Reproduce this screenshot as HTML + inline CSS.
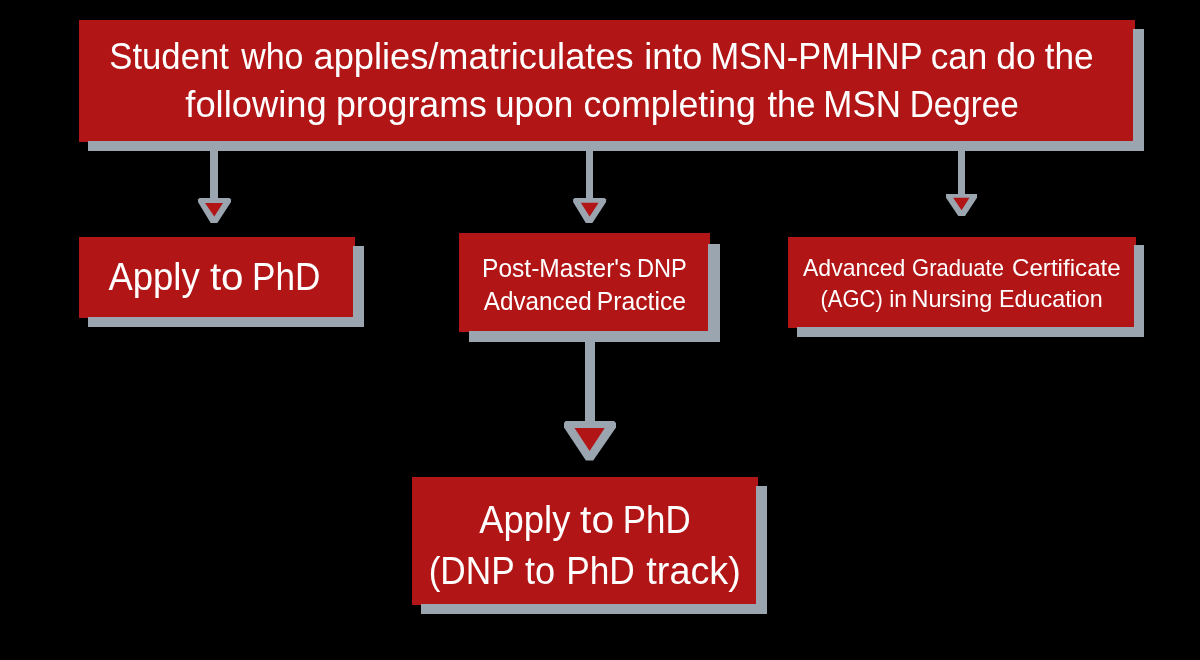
<!DOCTYPE html>
<html><head><meta charset="utf-8">
<style>
html,body{margin:0;padding:0;background:#000;width:1200px;height:660px;overflow:hidden}
svg{display:block;will-change:transform}
text{font-family:"Liberation Sans",sans-serif;fill:#fff}
</style></head>
<body>
<svg width="1200" height="660" viewBox="0 0 1200 660">
<rect x="0" y="0" width="1200" height="660" fill="#000"/>
<g fill="#B11516">
<rect x="79" y="20" width="1056" height="122"/>
<rect x="79" y="237" width="276" height="81"/>
<rect x="459" y="233" width="251" height="99"/>
<rect x="788" y="237" width="348" height="91"/>
<rect x="412" y="477" width="346" height="128"/>
</g>
<g fill="#9AA5AF">
<rect x="1133" y="29" width="11" height="122"/>
<rect x="88" y="141" width="1056" height="10"/>
<rect x="353" y="246" width="11" height="81"/>
<rect x="88" y="317" width="276" height="10"/>
<rect x="708" y="244" width="12" height="98"/>
<rect x="469" y="331" width="251" height="11"/>
<rect x="1134" y="245" width="10" height="92"/>
<rect x="797" y="327" width="347" height="10"/>
<rect x="756" y="486" width="11" height="128"/>
<rect x="421" y="604" width="346" height="10"/>
<!-- connectors -->
<rect x="210" y="150" width="8" height="50"/>
<rect x="586" y="150" width="7" height="50"/>
<rect x="958" y="150" width="7" height="46"/>
<rect x="585" y="341" width="10" height="82"/>
<polygon points="198,199.5 199.5,198 229.5,198 231,199.5 231,202 217.3,223 210.7,223 198,202"/>
<polygon points="573.1,199.5 574.6,198 604.6,198 606.1,199.5 606.1,202 592.4,223 585.8,223 573.1,202"/>
<polygon points="946,194 977,194 977,197.7 965,216 958.3,216 946,197.7"/>
<polygon points="564,423 565.5,421 614,421 616,423 616,427.5 593.2,460.5 585.9,460.5 564,427.5"/>
</g>
<g fill="#B11516">
<polygon points="205,203 223,203 214.3,216.5"/>
<polygon points="580.8,202.7 598.6,202.7 589.6,216.4"/>
<polygon points="953.1,197.8 969.5,197.8 961.6,210.2"/>
<polygon points="574.5,428 604.7,428 589.6,451"/>
</g>
<g>
<text x="109.32" y="69" font-size="36" textLength="119.53" lengthAdjust="spacingAndGlyphs">Student</text>
<text x="241.25" y="69" font-size="36" textLength="62.24" lengthAdjust="spacingAndGlyphs">who</text>
<text x="313.49" y="69" font-size="36" textLength="320.17" lengthAdjust="spacingAndGlyphs">applies/matriculates</text>
<text x="644.25" y="69" font-size="36" textLength="58.05" lengthAdjust="spacingAndGlyphs">into</text>
<text x="710.38" y="69" font-size="36" textLength="212.23" lengthAdjust="spacingAndGlyphs">MSN-PMHNP</text>
<text x="930.73" y="69" font-size="36" textLength="56.57" lengthAdjust="spacingAndGlyphs">can</text>
<text x="996.21" y="69" font-size="36" textLength="39.52" lengthAdjust="spacingAndGlyphs">do</text>
<text x="1044.7" y="69" font-size="36" textLength="48.92" lengthAdjust="spacingAndGlyphs">the</text>
<text x="185.3" y="117.1" font-size="36" textLength="141.31" lengthAdjust="spacingAndGlyphs">following</text>
<text x="336.02" y="117.1" font-size="36" textLength="150.79" lengthAdjust="spacingAndGlyphs">programs</text>
<text x="495.05" y="117.1" font-size="36" textLength="78.25" lengthAdjust="spacingAndGlyphs">upon</text>
<text x="583.51" y="117.1" font-size="36" textLength="172.31" lengthAdjust="spacingAndGlyphs">completing</text>
<text x="767.5" y="117.1" font-size="36" textLength="48.0" lengthAdjust="spacingAndGlyphs">the</text>
<text x="823.34" y="117.1" font-size="36" textLength="77.57" lengthAdjust="spacingAndGlyphs">MSN</text>
<text x="909.73" y="117.1" font-size="36" textLength="108.96" lengthAdjust="spacingAndGlyphs">Degree</text>
<text x="108.4" y="289.9" font-size="38" textLength="91.36" lengthAdjust="spacingAndGlyphs">Apply</text>
<text x="209.9" y="289.9" font-size="38" textLength="33.61" lengthAdjust="spacingAndGlyphs">to</text>
<text x="252.03" y="289.9" font-size="38" textLength="68.35" lengthAdjust="spacingAndGlyphs">PhD</text>
<text x="482.06" y="277" font-size="25.3" textLength="149.26" lengthAdjust="spacingAndGlyphs">Post-Master's</text>
<text x="637.04" y="277" font-size="25.3" textLength="49.79" lengthAdjust="spacingAndGlyphs">DNP</text>
<text x="483.8" y="310.2" font-size="25.3" textLength="107.95" lengthAdjust="spacingAndGlyphs">Advanced</text>
<text x="596.75" y="310.2" font-size="25.3" textLength="89.31" lengthAdjust="spacingAndGlyphs">Practice</text>
<text x="803.0" y="275.6" font-size="24" textLength="102.42" lengthAdjust="spacingAndGlyphs">Advanced</text>
<text x="912.08" y="275.6" font-size="24" textLength="91.81" lengthAdjust="spacingAndGlyphs">Graduate</text>
<text x="1011.99" y="275.6" font-size="24" textLength="108.76" lengthAdjust="spacingAndGlyphs">Certificate</text>
<text x="820.48" y="307.3" font-size="24" textLength="62.33" lengthAdjust="spacingAndGlyphs">(AGC)</text>
<text x="889.15" y="307.3" font-size="24" textLength="17.75" lengthAdjust="spacingAndGlyphs">in</text>
<text x="911.55" y="307.3" font-size="24" textLength="80.61" lengthAdjust="spacingAndGlyphs">Nursing</text>
<text x="999.06" y="307.3" font-size="24" textLength="103.67" lengthAdjust="spacingAndGlyphs">Education</text>
<text x="479.3" y="533" font-size="38" textLength="91.06" lengthAdjust="spacingAndGlyphs">Apply</text>
<text x="580.1" y="533" font-size="38" textLength="33.92" lengthAdjust="spacingAndGlyphs">to</text>
<text x="622.75" y="533" font-size="38" textLength="67.82" lengthAdjust="spacingAndGlyphs">PhD</text>
<text x="428.65" y="584.2" font-size="38" textLength="86.11" lengthAdjust="spacingAndGlyphs">(DNP</text>
<text x="525.0" y="584.2" font-size="38" textLength="30.12" lengthAdjust="spacingAndGlyphs">to</text>
<text x="566.22" y="584.2" font-size="38" textLength="68.57" lengthAdjust="spacingAndGlyphs">PhD</text>
<text x="646.3" y="584.2" font-size="38" textLength="94.49" lengthAdjust="spacingAndGlyphs">track)</text>
</g>
</svg>
</body></html>
